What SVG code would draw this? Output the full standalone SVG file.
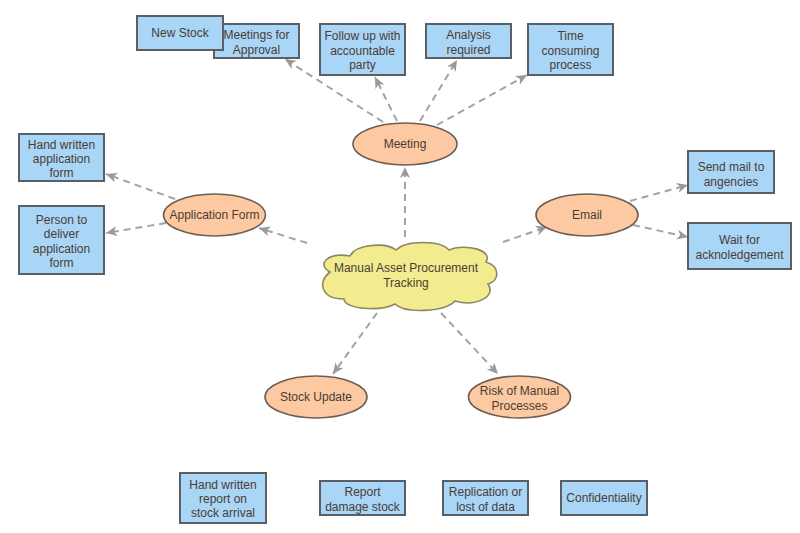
<svg xmlns="http://www.w3.org/2000/svg" width="800" height="533" viewBox="0 0 800 533">
<style>
.box{fill:#a9d5f7;stroke:#5a5f66;stroke-width:2}
.ell{fill:#fcc9a2;stroke:#6e5e52;stroke-width:1.6}
.cloud{fill:#f3ec8e;stroke:#8c8760;stroke-width:1.6}
.t{font-family:"Liberation Sans",Arial,sans-serif;font-size:12px;fill:#4a3c34;text-anchor:middle;dominant-baseline:central}
.c{fill:none;stroke:#a3a3a3;stroke-width:2;stroke-dasharray:7,5;marker-end:url(#arr)}
</style>
<defs>
<marker id="arr" markerUnits="userSpaceOnUse" markerWidth="12" markerHeight="10" refX="11" refY="5" orient="auto">
<path d="M0,0 L11,5 L0,10 L3,5 z" fill="#9a9a9a"/>
</marker>
</defs>
<rect width="800" height="533" fill="#ffffff"/>
<g id="connectors">
<line class="c" x1="405" y1="237" x2="405" y2="167"/>
<line class="c" x1="307" y1="243" x2="259" y2="228"/>
<line class="c" x1="503" y1="242" x2="547" y2="227"/>
<line class="c" x1="377" y1="313" x2="333" y2="374"/>
<line class="c" x1="441" y1="313" x2="498" y2="374"/>
<line class="c" x1="383" y1="122" x2="285" y2="59"/>
<line class="c" x1="397" y1="121" x2="375" y2="77"/>
<line class="c" x1="420" y1="121" x2="457" y2="60"/>
<line class="c" x1="437" y1="125" x2="527" y2="75"/>
<line class="c" x1="175" y1="199" x2="106" y2="174"/>
<line class="c" x1="166" y1="223" x2="106" y2="233"/>
<line class="c" x1="630" y1="201" x2="688" y2="185"/>
<line class="c" x1="633" y1="225" x2="688" y2="237"/>
</g>
<g id="center">
<path class="cloud" d="M330,272 C316,264 328,252 350,256 C356,244 386,242 396,250 C406,240 440,240 449,250 C464,243 494,250 486,262 C500,266 500,281 488,284 C497,297 475,307 455,301 C445,312 405,314 395,304 C380,312 344,309 344,299 C321,299 317,282 330,272 Z"/>
<text class="t" x="406" y="268">Manual Asset Procurement</text>
<text class="t" x="406" y="283">Tracking</text>
</g>
<g id="meeting">
<ellipse class="ell" cx="405" cy="144" rx="52" ry="21"/>
<text class="t" x="405" y="144">Meeting</text>
</g>
<g id="appform">
<ellipse class="ell" cx="214.5" cy="215" rx="51" ry="21"/>
<text class="t" x="214.5" y="215">Application Form</text>
</g>
<g id="email">
<ellipse class="ell" cx="587" cy="215" rx="51" ry="21"/>
<text class="t" x="587" y="215">Email</text>
</g>
<g id="stockupdate">
<ellipse class="ell" cx="316" cy="397" rx="51" ry="21"/>
<text class="t" x="316" y="397">Stock Update</text>
</g>
<g id="risk">
<ellipse class="ell" cx="519.5" cy="397" rx="51" ry="21"/>
<text class="t" x="519.5" y="391">Risk of Manual</text>
<text class="t" x="519.5" y="406">Processes</text>
</g>
<g id="meetings-approval">
<rect class="box" x="214" y="24" width="85" height="34"/>
<text class="t" x="256.5" y="35">Meetings for</text>
<text class="t" x="256.5" y="50">Approval</text>
</g>
<g id="new-stock">
<rect class="box" x="137" y="16" width="86" height="34"/>
<text class="t" x="180" y="33">New Stock</text>
</g>
<g id="follow-up">
<rect class="box" x="320" y="24" width="85" height="51"/>
<text class="t" x="362.5" y="36">Follow up with</text>
<text class="t" x="362.5" y="51">accountable</text>
<text class="t" x="362.5" y="65">party</text>
</g>
<g id="analysis">
<rect class="box" x="426" y="24" width="85" height="34"/>
<text class="t" x="468.5" y="35">Analysis</text>
<text class="t" x="468.5" y="50">required</text>
</g>
<g id="time">
<rect class="box" x="528" y="24" width="85" height="51"/>
<text class="t" x="570.5" y="36">Time</text>
<text class="t" x="570.5" y="51">consuming</text>
<text class="t" x="570.5" y="65">process</text>
</g>
<g id="handwritten-form">
<rect class="box" x="19" y="134" width="85" height="47"/>
<text class="t" x="61.5" y="145">Hand written</text>
<text class="t" x="61.5" y="159">application</text>
<text class="t" x="61.5" y="173">form</text>
</g>
<g id="person-deliver">
<rect class="box" x="19" y="206" width="85" height="68"/>
<text class="t" x="61.5" y="220">Person to</text>
<text class="t" x="61.5" y="234">deliver</text>
<text class="t" x="61.5" y="249">application</text>
<text class="t" x="61.5" y="263">form</text>
</g>
<g id="send-mail">
<rect class="box" x="688" y="151" width="86" height="42"/>
<text class="t" x="731" y="167">Send mail to</text>
<text class="t" x="731" y="182">angencies</text>
</g>
<g id="wait-ack">
<rect class="box" x="688" y="223" width="103" height="46"/>
<text class="t" x="739.5" y="240">Wait for</text>
<text class="t" x="739.5" y="255">acknoledgement</text>
</g>
<g id="handwritten-report">
<rect class="box" x="180" y="473" width="86" height="50"/>
<text class="t" x="223" y="485">Hand written</text>
<text class="t" x="223" y="499">report on</text>
<text class="t" x="223" y="513">stock arrival</text>
</g>
<g id="report-damage">
<rect class="box" x="320" y="481" width="85" height="34"/>
<text class="t" x="362.5" y="492">Report</text>
<text class="t" x="362.5" y="507">damage stock</text>
</g>
<g id="replication">
<rect class="box" x="443" y="481" width="85" height="34"/>
<text class="t" x="485.5" y="492">Replication or</text>
<text class="t" x="485.5" y="507">lost of data</text>
</g>
<g id="confidentiality">
<rect class="box" x="561" y="481" width="86" height="34"/>
<text class="t" x="604" y="498">Confidentiality</text>
</g>
</svg>
